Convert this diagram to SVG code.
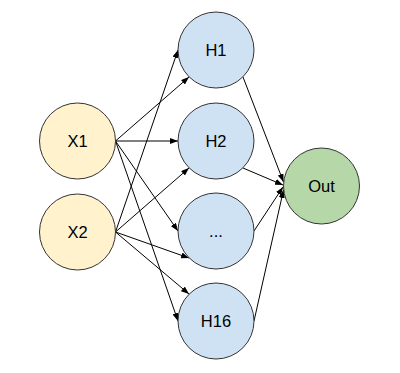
<svg xmlns="http://www.w3.org/2000/svg" width="400" height="373" viewBox="0 0 400 373">
<style>
.node{stroke:#333;stroke-width:1}
.in{fill:#fff2cc}
.hid{fill:#cfe2f3}
.out{fill:#b6d7a8}
text{font-family:"Liberation Sans",Arial,sans-serif;font-size:16.5px;fill:#000;text-anchor:middle;dominant-baseline:central}
.edge{stroke:#000;stroke-width:1;fill:none;marker-end:url(#arr)}
</style>
<defs>
<marker id="arr" viewBox="0 0 8 6" refX="8" refY="3" markerWidth="8" markerHeight="6" markerUnits="userSpaceOnUse" orient="auto">
<path d="M0,0 L8,3 L0,6 Z" fill="#000"/>
</marker>
</defs>
<rect width="400" height="373" fill="#fff"/>
<g id="edges">
<path class="edge" d="M115.5,141 L189,77"/>
<path class="edge" d="M115.5,141 L178,141"/>
<path class="edge" d="M115.5,141 L178,231"/>
<path class="edge" d="M115.5,141 L178,321"/>
<path class="edge" d="M115.5,232 L178,50"/>
<path class="edge" d="M115.5,232 L189,168"/>
<path class="edge" d="M115.5,232 L189,258"/>
<path class="edge" d="M115.5,232 L189,294"/>
<path class="edge" d="M243,77 L283.5,182"/>
<path class="edge" d="M243,168 L283,185"/>
<path class="edge" d="M254,231 L283,187"/>
<path class="edge" d="M254,321 L283.5,190"/>
</g>
<g id="X1"><circle class="node in" cx="77.5" cy="141" r="38"/><text x="77.5" y="141">X1</text></g>
<g id="X2"><circle class="node in" cx="77.5" cy="232" r="38"/><text x="77.5" y="232">X2</text></g>
<g id="H1"><circle class="node hid" cx="216" cy="50" r="38"/><text x="216" y="50">H1</text></g>
<g id="H2"><circle class="node hid" cx="216" cy="141" r="38"/><text x="216" y="141">H2</text></g>
<g id="Hdots"><circle class="node hid" cx="216" cy="231" r="38"/><text x="216" y="231">...</text></g>
<g id="H16"><circle class="node hid" cx="216" cy="321" r="38"/><text x="216" y="321">H16</text></g>
<g id="Out"><circle class="node out" cx="321.5" cy="186" r="38"/><text x="321.5" y="186">Out</text></g>
</svg>
